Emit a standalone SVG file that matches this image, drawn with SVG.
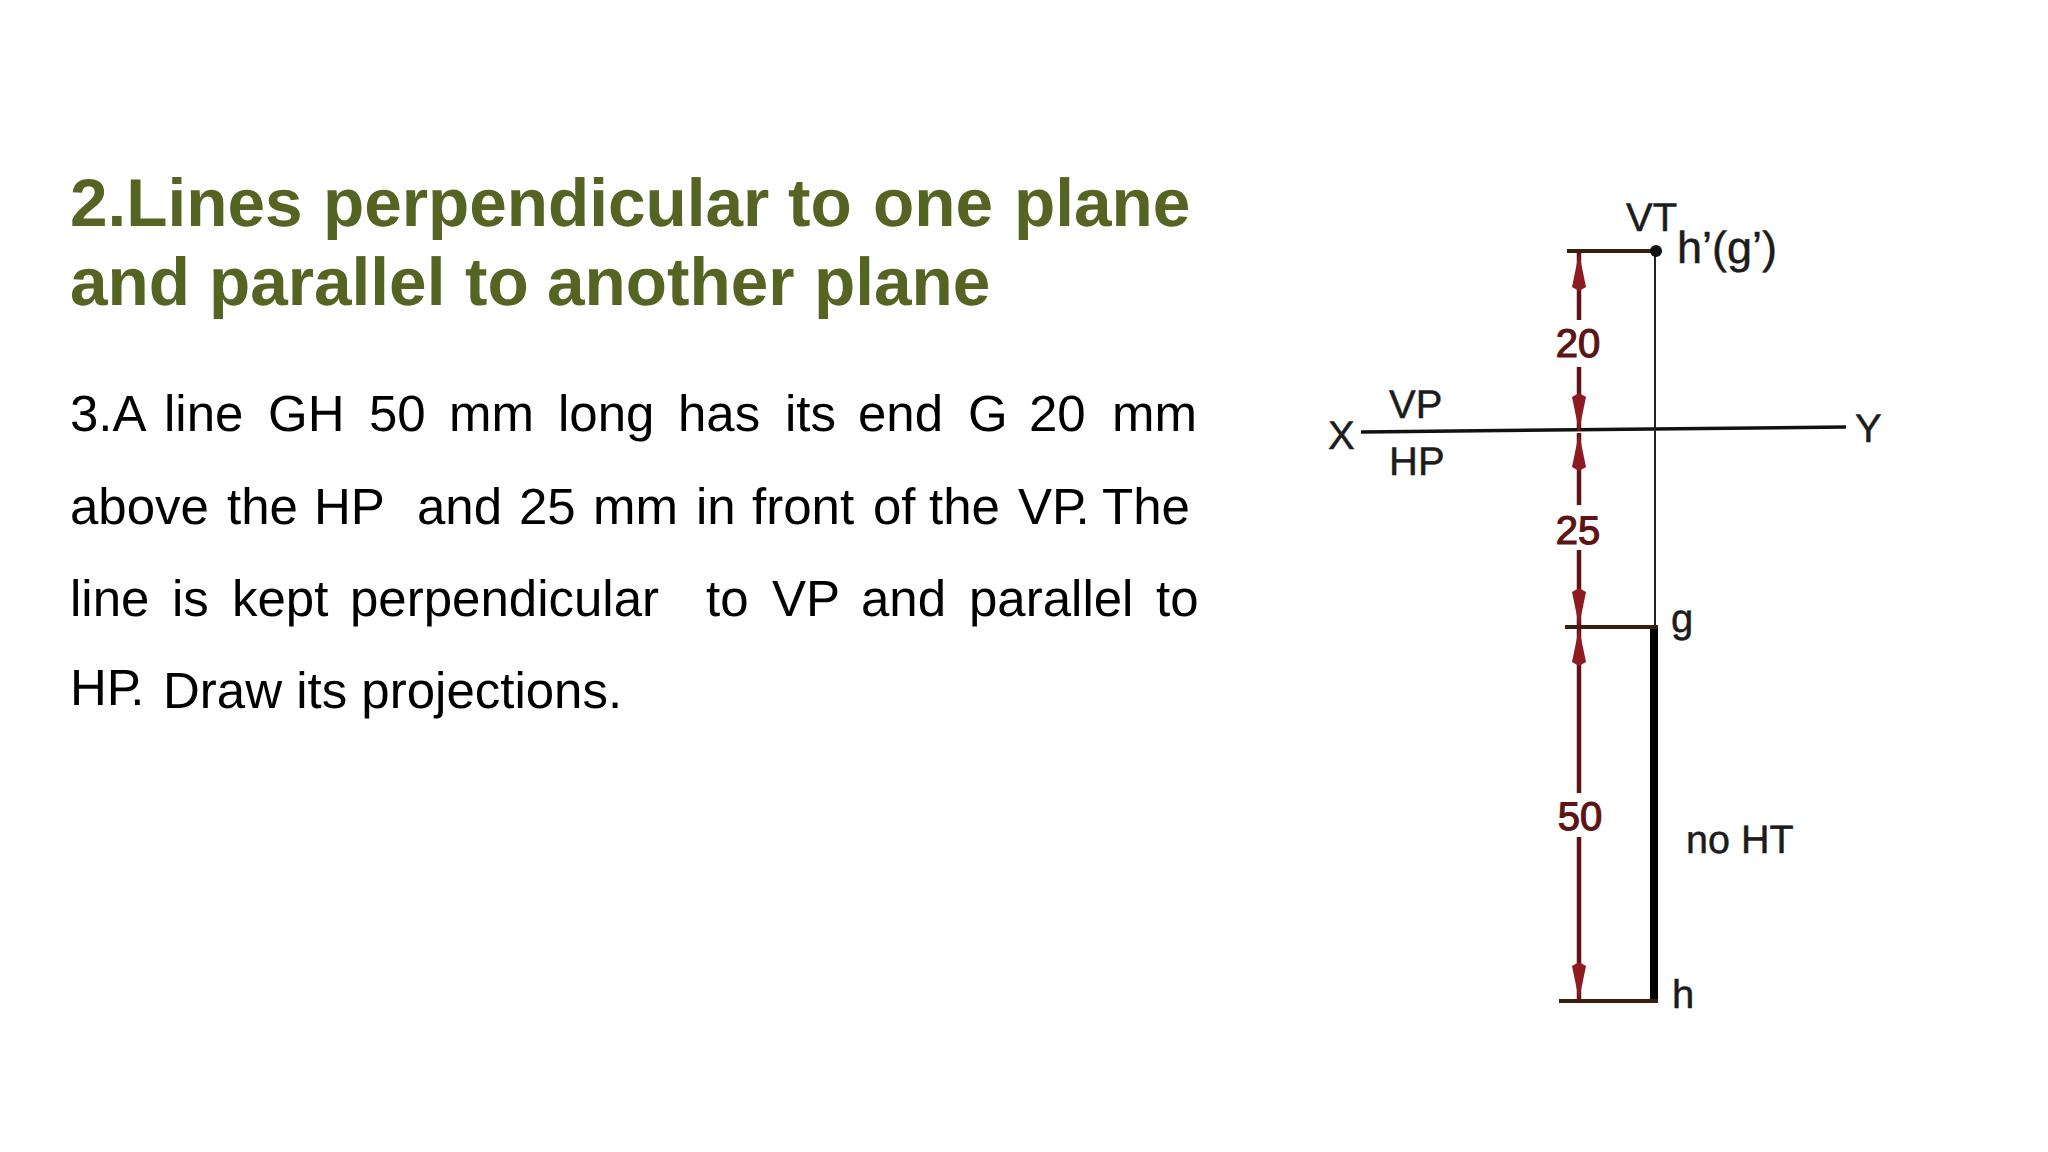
<svg xmlns="http://www.w3.org/2000/svg" width="2048" height="1152" viewBox="0 0 2048 1152">
<style>
text{font-family:"Liberation Sans",Arial,sans-serif;text-rendering:geometricPrecision;font-kerning:normal}
.title{font-size:67.5px;font-weight:700;fill:#556423}
.body{font-size:51px;fill:#000}
.lab{font-size:40px;fill:#1c1c1c;stroke:#1c1c1c;stroke-width:.5px}
.big{font-size:45px}
.dim{font-size:40px;fill:#5c1414;stroke:#5c1414;stroke-width:1.2px;text-anchor:middle}
.thin{stroke:#222;stroke-width:2;fill:none}
.axis{stroke:#111;stroke-width:3.5;fill:none}
.ext{stroke:#3a1f10;stroke-width:4;fill:none}
.dimline{stroke:#5e1216;stroke-width:4.5;fill:none}
</style>
<defs>
<marker id="ah" markerUnits="userSpaceOnUse" markerWidth="38" markerHeight="16" refX="38" refY="8" orient="auto-start-reverse" viewBox="0 0 38 16">
<path d="M38 8L4 1L0 8L4 15Z" fill="#8e1a22"/>
</marker>
</defs>
<rect width="2048" height="1152" fill="#fff"/>
<g id="heading">
<text class="title" y="226"><tspan x="70">2.Lines</tspan><tspan x="323">perpendicular</tspan><tspan x="788">to</tspan><tspan x="873">one</tspan><tspan x="1014">plane</tspan></text>
<text class="title" y="305"><tspan x="70">and</tspan><tspan x="209">parallel</tspan><tspan x="465">to</tspan><tspan x="547">another</tspan><tspan x="814">plane</tspan></text>
</g>
<g id="problem-text">
<text class="body" y="431"><tspan x="70">3.A</tspan><tspan x="164">line</tspan><tspan x="268">GH</tspan><tspan x="369">50</tspan><tspan x="449">mm</tspan><tspan x="558">long</tspan><tspan x="678">has</tspan><tspan x="785">its</tspan><tspan x="858">end</tspan><tspan x="968">G</tspan><tspan x="1029">20</tspan><tspan x="1112">mm</tspan></text>
<text class="body" y="524"><tspan x="70">above</tspan><tspan x="227">the</tspan><tspan x="314">HP</tspan><tspan x="417">and</tspan><tspan x="519">25</tspan><tspan x="593">mm</tspan><tspan x="696">in</tspan><tspan x="752">front</tspan><tspan x="873">of</tspan><tspan x="929">the</tspan><tspan x="1018">VP<tspan dx="-4">.</tspan></tspan><tspan x="1102">The</tspan></text>
<text class="body" y="616"><tspan x="70">line</tspan><tspan x="172">is</tspan><tspan x="232">kept</tspan><tspan x="350">perpendicular</tspan><tspan x="706">to</tspan><tspan x="772">VP</tspan><tspan x="861">and</tspan><tspan x="969">parallel</tspan><tspan x="1156">to</tspan></text>
<text class="body" y="705"><tspan x="70">HP<tspan dx="-4">.</tspan></tspan></text>
<text class="body" y="708"><tspan x="163">Draw its projections.</tspan></text>
</g>
<g id="connectors">
<line id="xy-line" class="axis" x1="1361" y1="432" x2="1846" y2="427"/>
<line id="projector" class="thin" x1="1655" y1="251" x2="1655" y2="627"/>
<line id="gh-line" x1="1654" y1="627" x2="1654" y2="1001" stroke="#000" stroke-width="8"/>
<line class="ext" x1="1567" y1="251" x2="1656" y2="251"/>
<line class="ext" x1="1565" y1="627" x2="1658" y2="627"/>
<line class="ext" x1="1559" y1="1001" x2="1658" y2="1001"/>
<g id="dimensions">
<line class="dimline" x1="1579" y1="253" x2="1579" y2="320" marker-start="url(#ah)"/>
<line class="dimline" x1="1579" y1="367" x2="1579" y2="431" marker-end="url(#ah)"/>
<line class="dimline" x1="1579" y1="433" x2="1579" y2="505" marker-start="url(#ah)"/>
<line class="dimline" x1="1579" y1="550" x2="1579" y2="626" marker-end="url(#ah)"/>
<line class="dimline" x1="1579" y1="628" x2="1579" y2="793" marker-start="url(#ah)"/>
<line class="dimline" x1="1579" y1="837" x2="1579" y2="1000" marker-end="url(#ah)"/>
</g>
</g>
<g id="node-vt"><circle cx="1656" cy="251" r="6" fill="#111"/><text class="lab" x="1626" y="231">VT</text><text class="lab big" x="1677" y="263">h’(g’)</text></g>
<g id="node-x"><text class="lab" x="1328" y="449">X</text></g>
<g id="node-y"><text class="lab" x="1855" y="442">Y</text></g>
<g id="node-vp"><text class="lab" x="1389" y="418">VP</text></g>
<g id="node-hp"><text class="lab" x="1389" y="475">HP</text></g>
<g id="node-g"><text class="lab" x="1671" y="632">g</text></g>
<g id="node-h"><text class="lab" x="1672" y="1008">h</text></g>
<g id="node-noht"><text class="lab" x="1686" y="853" style="font-size:39.5px">no HT</text></g>
<g id="dim-20"><text class="dim" x="1578" y="357">20</text></g>
<g id="dim-25"><text class="dim" x="1578" y="544">25</text></g>
<g id="dim-50"><text class="dim" x="1580" y="830">50</text></g>
</svg>
